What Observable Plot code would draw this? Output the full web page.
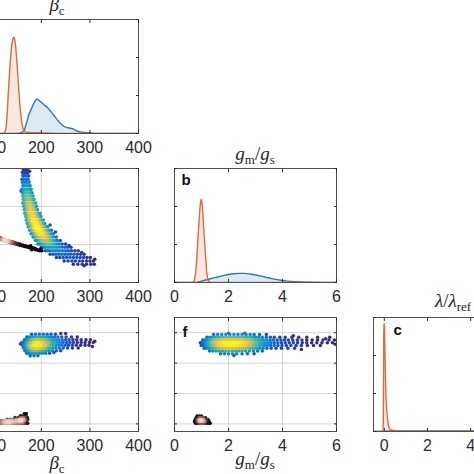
<!DOCTYPE html>
<html>
<head>
<meta charset="utf-8">
<script src="https://cdn.jsdelivr.net/npm/d3@7"></script>
<script src="https://cdn.jsdelivr.net/npm/@observablehq/plot@0.6"></script>
<style>
  html, body { margin: 0; padding: 0; background: #fff; }
  #fig { position: relative; width: 474px; height: 474px; overflow: hidden; background: #fff; }
  #fig svg { position: absolute; }
</style>
</head>
<body>
<div id="fig"></div>
<script>
// ---------- tick values ----------
const betaTicks = [100, 200, 300, 400];
const ratioTicks = [0, 2, 4, 6];
const lambdaTicks = [0, 2, 4, 6];
const lambdaGridTicks = [0, 1, 2, 3];
const densityTicks = [0, 1 / 3, 2 / 3, 1];

// ---------- marginal densities: [value, relative density] ----------
const betaDensityBlue = [[66.6,0],[140,0],[155,0.002],[160,0.01],[165,0.03],[168,0.07],[171,0.114],[174,0.16],[178,0.2],[182,0.24],[186,0.275],[190,0.3],[194,0.295],[198,0.28],[205,0.255],[212,0.23],[219,0.195],[226,0.16],[233,0.12],[240,0.085],[245,0.068],[250,0.055],[255,0.05],[260,0.046],[265,0.04],[270,0.03],[274,0.02],[280,0.014],[290,0.009],[302,0.005],[312,0.001],[320,0],[400,0]];
const betaDensityOrange = [[66.6,0],[120,0],[124,0.005],[127,0.04],[129,0.12],[131,0.27],[133,0.42],[135,0.56],[137,0.68],[139,0.77],[141,0.82],[143,0.845],[145,0.83],[147,0.77],[149,0.67],[151,0.55],[153,0.42],[155,0.3],[157,0.2],[159,0.12],[161,0.07],[163,0.035],[166,0.018],[170,0.01],[180,0.008],[195,0.006],[210,0.004],[225,0.002],[240,0],[400,0]];
const ratioDensityBlue = [[0,0],[0.8,0],[0.9,0.004],[1.0,0.012],[1.2,0.025],[1.4,0.037],[1.6,0.048],[1.8,0.06],[2.0,0.07],[2.2,0.077],[2.4,0.08],[2.6,0.08],[2.8,0.075],[3.0,0.066],[3.2,0.056],[3.4,0.045],[3.6,0.034],[3.8,0.025],[4.0,0.017],[4.2,0.012],[4.5,0.007],[5.0,0.003],[5.5,0.001],[6,0]];
const ratioDensityOrange = [[0,0],[0.68,0],[0.72,0.01],[0.76,0.05],[0.8,0.13],[0.84,0.27],[0.88,0.43],[0.92,0.58],[0.96,0.69],[1.0,0.73],[1.04,0.64],[1.08,0.48],[1.12,0.34],[1.16,0.2],[1.2,0.08],[1.24,0.025],[1.28,0.008],[1.35,0],[6,0]];
const lambdaDensityBlue = [[-0.5,0],[-0.1,0],[0,0.003],[0.5,0.004],[1,0.005],[2,0.005],[3,0.005],[4,0.004],[5,0.004],[6,0.003],[7,0.002]];
const lambdaDensityOrange = [[-0.5,0],[-0.06,0],[-0.045,0.1],[-0.035,0.5],[-0.025,0.85],[-0.01,0.95],[0.01,0.9],[0.03,0.7],[0.05,0.5],[0.07,0.35],[0.1,0.22],[0.14,0.13],[0.18,0.07],[0.23,0.03],[0.3,0.015],[0.5,0.008],[0.8,0.004],[1.0,0.002],[1.1,0],[7,0]];

// ---------- posterior samples, stored as rows: [y, [x values]] ----------
// beta_c (x) vs g_m/g_s (y), wide posterior
const betaRatioBlue = [
  [5.95,[163,167,171]],
  [5.79,[161,165,169,172]],
  [5.62,[162,164,168,171,174]],
  [5.44,[160,163,167,170,173]],
  [5.27,[161,165,168,172,175]],
  [5.09,[162,164,167,171,174,177]],
  [4.91,[160,163,166,169,173,176,179]],
  [4.73,[161,165,168,171,175,178,181]],
  [4.55,[162,164,167,170,173,177,180,183]],
  [4.37,[163,166,169,172,175,179,182,185]],
  [4.19,[162,165,168,171,174,177,181,184,188]],
  [4.01,[164,167,170,173,176,179,183,186,190]],
  [3.83,[165,168,171,174,177,181,184,188,192]],
  [3.65,[166,169,172,175,178,182,185,189,193,197]],
  [3.47,[168,171,174,177,180,184,187,191,195,199]],
  [3.29,[169,172,175,178,182,185,189,192,196,200,204]],
  [3.11,[171,174,177,181,184,187,191,194,198,202,207]],
  [2.93,[173,176,179,183,186,189,193,196,200,204,209,213]],
  [2.75,[176,179,182,185,189,192,195,199,203,207,211,216,221]],
  [2.57,[179,182,186,189,192,196,199,203,207,211,215,220,225]],
  [2.39,[183,186,190,193,197,200,204,208,212,216,220,225,231]],
  [2.21,[188,191,195,199,203,206,210,214,218,223,228,233,239]],
  [2.03,[193,197,201,205,209,213,217,222,226,231,237,243,250]],
  [1.85,[200,204,208,213,217,222,226,231,236,242,248,254,261]],
  [1.67,[208,213,218,223,228,233,238,244,250,256,262,269,276]],
  [1.49,[218,224,230,236,242,248,254,260,267,274,281,288]],
  [1.31,[231,238,245,252,259,266,273,280,287,294,301]],
  [1.13,[247,255,263,270,278,285,293,300,307]],
  [0.96,[266,275,284,293,302,309]],
  [5.86,[176]],[4.82,[158]],[3.02,[218]],[1.95,[257]],[1.22,[310]],[0.88,[288]],[2.66,[229]],[1.58,[283]]
];
// beta_c (x) vs g_m/g_s (y), narrow posterior
const betaRatioDark = [
  [2.44,[98,100]],[2.41,[103,106]],[2.38,[102,108,111]],[2.35,[106,113,116]],
  [2.32,[110,114,117,120]],[2.29,[113,117,119,121,123]],[2.26,[116,119,121,123,125,127]],
  [2.23,[120,122,124,126,128,130]],[2.2,[123,125,127,129,131,133]],[2.17,[126,128,131,134,136]],
  [2.14,[130,133,136,139,141]],[2.11,[134,137,140,143,145]],[2.08,[138,141,144,147]],
  [2.05,[142,145,148,151]],[2.02,[147,150,153,156]],[1.99,[152,155,158]],
  [1.96,[156,160,163]],[1.93,[160,164,167]],[1.9,[165,169,172]],[1.87,[170,174]],
  [1.84,[174,178,181]],[1.8,[178,183,186]],[1.77,[184,188]],[1.73,[188,192]],
  [1.7,[193,196]],[1.67,[197,201]],[1.93,[178]],[1.72,[180]],[1.78,[199]]
];
// beta_c (x) vs lambda/lambda_ref (y), wide posterior
const betaLambdaBlue = [
  [2.95,[180,188,196,204,212,220,229]],
  [2.86,[170,175,180,185,190,195,200,205,210,215,221,227,234,242,251,262,274]],
  [2.77,[165,169,173,177,181,185,189,193,197,201,205,209,214,219,224,230,236,243,250,257,265,273,282,292,301]],
  [2.68,[160,164,168,172,176,180,184,188,192,196,200,204,208,212,217,222,227,233,239,245,252,259,266,274,282,290,299,307]],
  [2.59,[161,165,169,173,177,181,185,189,193,197,201,205,209,214,219,224,230,236,242,249,256,264,272,281,290,298]],
  [2.5,[163,167,171,175,179,183,187,191,195,199,203,208,213,218,224,230,237,245,254,264,276]],
  [2.41,[166,170,174,178,182,186,190,194,199,204,210,216,223,231,240]],
  [2.32,[170,175,180,185,190,196,202,209,217]],
  [2.24,[177,185,193]],
  [2.97,[240,250]],[2.55,[305]],[2.72,[310]],[2.35,[226]],[2.64,[157]]
];
// beta_c (x) vs lambda/lambda_ref (y), narrow posterior
const betaLambdaDark = [
  [0.02,[100,103,106,109,112,115,118,121,124,127,130,133,136,140,144,148,152,156,160,164,168,172]],
  [0.06,[104,107,110,113,116,119,122,125,128,131,134,137,140,144,148,153,158,163,168]],
  [0.1,[112,116,120,124,128,132,136,140,145,150,155,160,165,170]],
  [0.15,[130,136,142,148,154,159,164,168,172]],
  [0.21,[146,152,158,163,167,171]],
  [0.27,[157,163,168]],
  [0.33,[165,169]]
];
// g_m/g_s (x) vs lambda/lambda_ref (y), wide posterior
const ratioLambdaBlue = [
  [2.94,[1.45,1.6,1.75,1.9,2.05,2.2,2.35,2.5,2.65,2.8,2.95,3.15,3.4]],
  [2.85,[1.2,1.3,1.4,1.5,1.6,1.7,1.8,1.9,2.0,2.1,2.2,2.3,2.4,2.5,2.6,2.7,2.8,2.9,3.0,3.12,3.25,3.4,3.55,3.7,3.9,4.1,4.35,4.6,4.9,5.3,5.75]],
  [2.76,[1.05,1.13,1.21,1.29,1.37,1.45,1.53,1.61,1.69,1.77,1.85,1.93,2.01,2.09,2.17,2.25,2.33,2.41,2.49,2.57,2.65,2.73,2.82,2.91,3.0,3.1,3.2,3.3,3.42,3.54,3.66,3.8,3.94,4.08,4.22,4.38,4.55,4.72,4.9,5.1,5.3,5.5,5.72,5.92]],
  [2.67,[0.96,1.04,1.12,1.2,1.28,1.36,1.44,1.52,1.6,1.68,1.76,1.84,1.92,2.0,2.08,2.16,2.24,2.32,2.4,2.48,2.56,2.64,2.72,2.8,2.89,2.98,3.07,3.16,3.26,3.36,3.47,3.58,3.7,3.83,3.96,4.1,4.25,4.4,4.56,4.73,4.9,5.08,5.27,5.46,5.66,5.85]],
  [2.58,[0.99,1.07,1.15,1.23,1.31,1.39,1.47,1.55,1.63,1.71,1.79,1.87,1.95,2.03,2.11,2.19,2.27,2.35,2.43,2.51,2.59,2.67,2.75,2.84,2.93,3.02,3.12,3.22,3.33,3.44,3.56,3.69,3.83,3.98,4.14,4.31,4.5,4.7,4.92,5.15,5.4]],
  [2.49,[1.1,1.19,1.28,1.37,1.46,1.55,1.64,1.73,1.82,1.91,2.0,2.09,2.18,2.27,2.36,2.45,2.54,2.63,2.72,2.82,2.92,3.03,3.15,3.28,3.42,3.58,3.76,3.96,4.2,4.45]],
  [2.4,[1.3,1.42,1.54,1.66,1.78,1.9,2.02,2.14,2.26,2.38,2.5,2.63,2.77,2.92,3.08,3.25]],
  [2.31,[1.7,1.85,2.0,2.15,2.3,2.5,2.7,2.95]],
  [2.98,[2.0,2.6]],[2.25,[2.2]],[2.45,[4.7]],[2.9,[4.4]],[2.62,[5.95]],[2.8,[5.6]]
];
// g_m/g_s (x) vs lambda/lambda_ref (y), narrow posterior
const ratioLambdaDark = [
  [0.02,[0.78,0.84,0.9,0.96,1.02,1.08,1.14,1.2,1.26,1.32]],
  [0.08,[0.74,0.8,0.86,0.92,0.98,1.04,1.1,1.16,1.22,1.28]],
  [0.14,[0.76,0.82,0.88,0.94,1.0,1.06,1.12,1.18,1.25]],
  [0.2,[0.8,0.87,0.94,1.01,1.08,1.15]],
  [0.26,[0.84,0.92,1.0]]
];

// ---------- layout ----------
const W = 162, H = 114;
const ML = 14, MR = 14, MT = 12, MB = 30;
const colLeft = [-24, 174, 372.5];
const rowTop = [19, 168, 317];
const betaDomain = [66.6, 400], ratioDomain = [0, 6], lambdaDomain = [-0.5, 7];
const lambdaScatterDomain = [-0.25, 3.5];

const BLUE = "#2a7bb9", ORANGE = "#db6a3d";
const parula = d3.interpolateRgbBasis(["#352a87","#0f5cdd","#1481d6","#06a4ca","#2eb7a4","#87bf77","#d1bb59","#fec832","#f9fb0e"]);
const pinkRamp = d3.interpolateRgbBasis(["#000000","#1c0d0a","#4a2820","#8c5a4c","#c99a8c","#f3d7cc"]);

const rowsToPoints = rows => rows.flatMap(([y, xs]) => xs.map(x => [x, y]));

// colour each sample by a Gaussian kernel density estimate in screen space
function shade(rows, xDomain, yDomain, sigma, ramp, gamma) {
  const pts = rowsToPoints(rows);
  const sx = d3.scaleLinear(xDomain, [0, W]), sy = d3.scaleLinear(yDomain, [H, 0]);
  const px = pts.map(([x, y]) => [sx(x), sy(y)]);
  const s2 = 2 * sigma * sigma;
  const dens = px.map(([a, b]) => d3.sum(px, ([c, d]) => Math.exp(-((a - c) ** 2 + (b - d) ** 2) / s2)));
  const lo = d3.min(dens), hi = d3.max(dens);
  return pts.map(([x, y], i) => {
    const t = (dens[i] - lo) / (hi - lo);
    return {x, y, d: dens[i], c: ramp(Math.pow(t, gamma))};
  }).sort((a, b) => a.d - b.d);
}

const fig = document.getElementById("fig");

function panel(o) {
  const svg = Plot.plot({
    width: W + ML + MR, height: H + MT + MB,
    marginTop: MT, marginRight: MR, marginBottom: MB, marginLeft: ML,
    x: {domain: o.xDomain},
    y: {domain: o.yDomain},
    color: {type: "identity"},
    style: {background: "transparent", fontFamily: "'Liberation Sans', Arial, sans-serif", fontSize: "16px", color: "#2b2b2b", overflow: "visible"},
    marks: [
      o.grid ? Plot.gridX(o.xTicks, {stroke: "#d4d4d4", strokeOpacity: 1}) : null,
      o.grid ? Plot.gridY(o.yTicks, {stroke: "#d4d4d4", strokeOpacity: 1}) : null,
      ...o.marks,
      Plot.frame({stroke: "#4f4f4f"}),
      Plot.axisX(o.xTicks, {anchor: "bottom", tickSize: -3, tickPadding: 11, tickFormat: o.xLabels ? (d => String(d)) : () => "", label: null}),
      Plot.axisX(o.xTicks, {anchor: "top", tickSize: -3, tickFormat: () => "", label: null}),
      Plot.axisY(o.yTicks, {anchor: "left", tickSize: -3, tickFormat: () => "", label: null}),
      Plot.axisY(o.yTicks, {anchor: "right", tickSize: -3, tickFormat: () => "", label: null}),
      o.tag ? Plot.text([o.tag.text], {text: d => d, frameAnchor: "top-left", dx: o.tag.dx, dy: o.tag.dy, lineAnchor: "top", textAnchor: "start", fontWeight: "bold", fontSize: 15, fill: "#111"}) : null
    ]
  });
  svg.style.left = (o.left - ML) + "px";
  svg.style.top = (o.top - MT) + "px";
  fig.appendChild(svg);
}

function marginal(blue, orange) {
  const opts = {x: d => d[0], y: d => d[1], curve: "monotone-x", clip: true};
  return [
    Plot.areaY(blue, {...opts, fill: BLUE, fillOpacity: 0.16}),
    Plot.lineY(blue, {...opts, stroke: BLUE, strokeWidth: 1.4}),
    Plot.areaY(orange, {...opts, fill: ORANGE, fillOpacity: 0.16}),
    Plot.lineY(orange, {...opts, stroke: ORANGE, strokeWidth: 1.4})
  ];
}

function cloud(samples) {
  return Plot.dot(samples, {x: "x", y: "y", fill: "c", r: 1.75, clip: true});
}

const wide = (rows, xd, yd) => cloud(shade(rows, xd, yd, 7, parula, 2.2));
const narrow = (rows, xd, yd) => cloud(shade(rows, xd, yd, 4, pinkRamp, 1.8));

// diagonal: marginal posteriors
panel({left: colLeft[0], top: rowTop[0], xDomain: betaDomain, yDomain: [0, 1], xTicks: betaTicks, yTicks: densityTicks, xLabels: true,
  marks: marginal(betaDensityBlue, betaDensityOrange)});
panel({left: colLeft[1], top: rowTop[1], xDomain: ratioDomain, yDomain: [0, 1], xTicks: ratioTicks, yTicks: densityTicks, xLabels: true,
  tag: {text: "b", dx: 7, dy: 6}, marks: marginal(ratioDensityBlue, ratioDensityOrange)});
panel({left: colLeft[2], top: rowTop[2], xDomain: lambdaDomain, yDomain: [0, 1], xTicks: lambdaTicks, yTicks: densityTicks, xLabels: true,
  tag: {text: "c", dx: 20, dy: 7}, marks: marginal(lambdaDensityBlue, lambdaDensityOrange)});

// off-diagonal: joint samples
panel({left: colLeft[0], top: rowTop[1], xDomain: betaDomain, yDomain: ratioDomain, xTicks: betaTicks, yTicks: ratioTicks, xLabels: true, grid: true,
  marks: [wide(betaRatioBlue, betaDomain, ratioDomain), narrow(betaRatioDark, betaDomain, ratioDomain)]});
panel({left: colLeft[0], top: rowTop[2], xDomain: betaDomain, yDomain: lambdaScatterDomain, xTicks: betaTicks, yTicks: lambdaGridTicks, xLabels: true, grid: true,
  marks: [wide(betaLambdaBlue, betaDomain, lambdaScatterDomain), narrow(betaLambdaDark, betaDomain, lambdaScatterDomain)]});
panel({left: colLeft[1], top: rowTop[2], xDomain: ratioDomain, yDomain: lambdaScatterDomain, xTicks: ratioTicks, yTicks: lambdaGridTicks, xLabels: true, grid: true,
  tag: {text: "f", dx: 8, dy: 9},
  marks: [wide(ratioLambdaBlue, ratioDomain, lambdaScatterDomain), narrow(ratioLambdaDark, ratioDomain, lambdaScatterDomain)]});

// parameter names
const ov = d3.select(fig).append("svg").attr("width", 474).attr("height", 474).style("left", "0px").style("top", "0px");
function title(x, y, parts) {
  const t = ov.append("text").attr("x", x).attr("y", y).attr("text-anchor", "middle")
    .attr("font-family", "'Liberation Serif', 'Times New Roman', serif").attr("font-size", 19).attr("fill", "#262626");
  let shifted = false;
  for (const [s, kind] of parts) {
    const ts = t.append("tspan").text(s);
    if (kind === "i") ts.attr("font-style", "italic");
    if (kind === "sub") { ts.attr("font-size", 13).attr("dy", 4); shifted = true; }
    else if (shifted) { ts.attr("dy", -4); shifted = false; }
  }
}
const betaName = [["β", "i"], ["c", "sub"]];
const ratioName = [["g", "i"], ["m", "sub"], ["/", ""], ["g", "i"], ["s", "sub"]];
const lambdaName = [["λ", "i"], ["/", ""], ["λ", "i"], ["ref", "sub"]];
title(57, 11, betaName);
title(255, 160, ratioName);
title(453, 307, lambdaName);
title(57, 469, betaName);
title(255, 465, ratioName);
</script>
</body>
</html>
